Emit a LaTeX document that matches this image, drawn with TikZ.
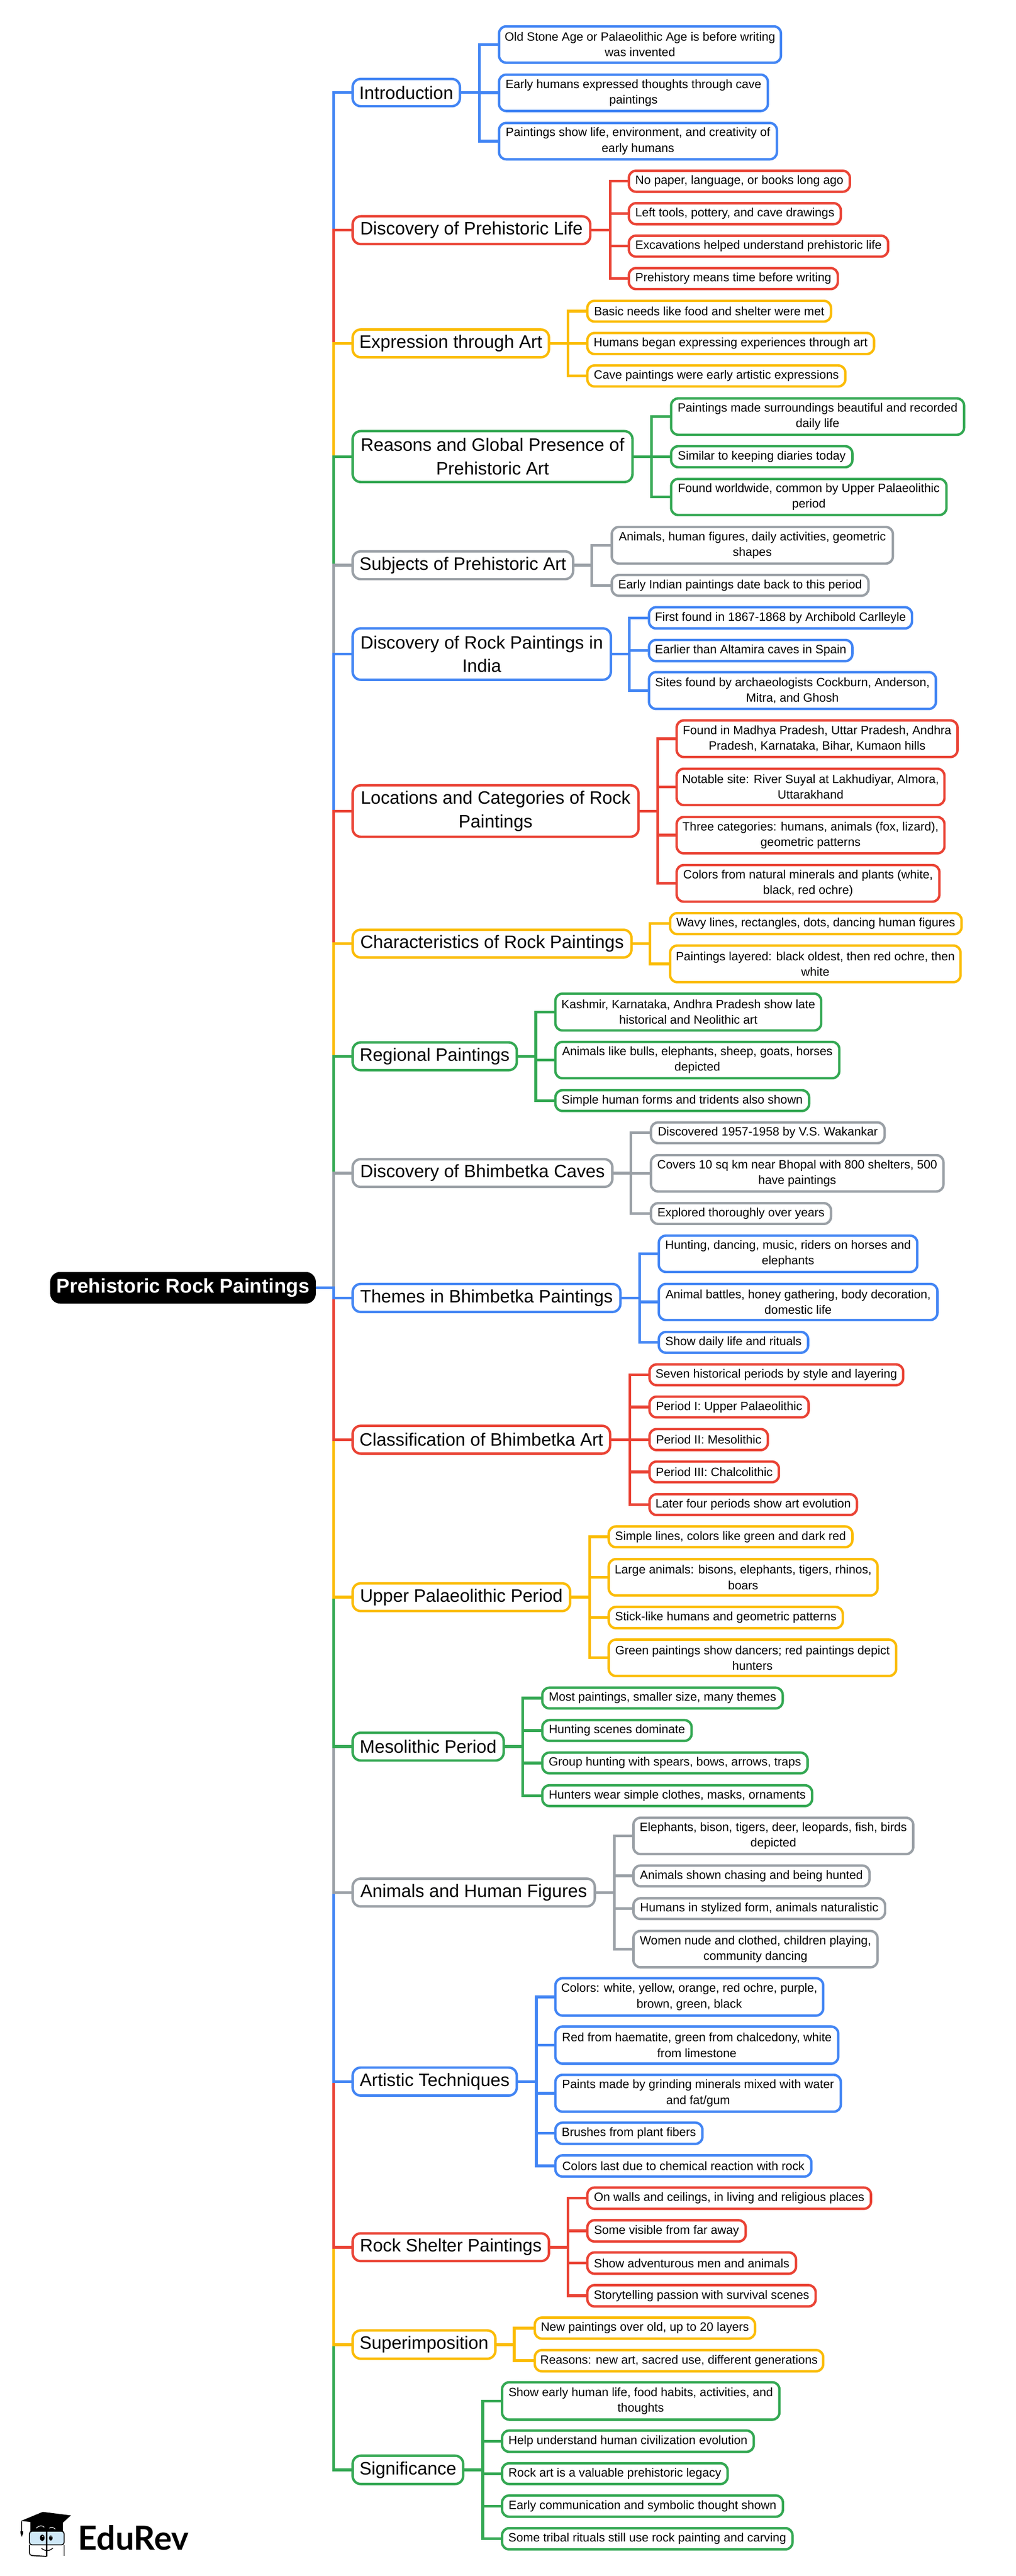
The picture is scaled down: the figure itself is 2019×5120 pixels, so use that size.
\documentclass[tikz,border=0pt]{standalone}
\usepackage{fontspec}
\setmainfont{Liberation Sans}
\newfontfamily\logofont{Lato}
\definecolor{cblue}{HTML}{4285F4}
\definecolor{cred}{HTML}{EA4335}
\definecolor{cyellow}{HTML}{FBBC04}
\definecolor{cgreen}{HTML}{34A853}
\definecolor{cgrey}{HTML}{9AA0A6}
\definecolor{glass}{HTML}{CFE8F7}
\tikzset{
  x=1pt,y=-1pt,
  rootbox/.style={rectangle,rounded corners=20pt,fill=black,text=white,inner sep=0pt,outer sep=0pt,align=center,font=\fontsize{39.5}{47}\selectfont\bfseries},
  branchbox/.style={rectangle,rounded corners=16pt,fill=white,line width=4.8pt,inner sep=0pt,outer sep=0pt,align=center,font=\fontsize{35.7}{47}\selectfont},
  leafbox/.style={rectangle,rounded corners=14pt,fill=white,line width=4.8pt,inner sep=0pt,outer sep=0pt,align=center,font=\fontsize{24}{31}\selectfont},
  conn/.style={line width=5.5pt}
}
\newcounter{leafn}
% name, colour, left, right, top, bottom, junction x, leaf left, text
\newcommand{\br}[9]{%
  \def\curB{#1}\def\curC{#2}\def\curL{#8}\setcounter{leafn}{0}%
  \pgfmathsetmacro{\bcx}{(#3+#4)/2}\pgfmathsetmacro{\bcy}{(#5+#6)/2}%
  \pgfmathsetmacro{\bwd}{#4-#3-4.8+3}\pgfmathsetmacro{\bht}{#6-#5-4.8+1}%
  \node[branchbox,draw=#2,minimum width=\bwd pt,minimum height=\bht pt] (#1) at (\bcx,\bcy) {#9};
  \coordinate (#1-j) at (#7,\bcy);
  \draw[conn,draw=#2] (#1.east) -- (#1-j);
}
% right, top, bottom, text
\newcommand{\lf}[4]{%
  \stepcounter{leafn}%
  \pgfmathsetmacro{\bcx}{(\curL+#1)/2}\pgfmathsetmacro{\bcy}{(#2+#3)/2}%
  \pgfmathsetmacro{\bwd}{#1-\curL-4.8+3}\pgfmathsetmacro{\bht}{#3-#2-4.8+1}%
  \node[leafbox,draw=\curC,minimum width=\bwd pt,minimum height=\bht pt] (\curB-\theleafn) at (\bcx,\bcy) {#4};
  \draw[conn,draw=\curC] (\curB-j) |- (\curB-\theleafn.west);
}
\newcommand{\rootedge}[2]{\draw[conn,draw=#2] (root.east) -- (trunk) |- (#1.west);}
\begin{document}
\begin{tikzpicture}
\useasboundingbox (0,0) rectangle (2019,5120);
\fill[white] (0,0) rectangle (2019,5120);

\node[rootbox,minimum width=528pt,minimum height=63pt] (root) at (363.7,2559.5) {Prehistoric Rock Paintings};
\coordinate (trunk) at (663.3,2559.5);

\br{intro}{cblue}{700}{915}{155}{213}{953}{991}{Introduction}
\lf{1553}{50.5}{126.5}{Old Stone Age or Palaeolithic Age is before writing\\was invented}
\lf{1527}{146.5}{222.5}{Early humans expressed thoughts through cave\\paintings}
\lf{1545}{242.5}{318.5}{Paintings show life, environment, and creativity of\\early humans}

\br{lifed}{cred}{700}{1174}{428}{487}{1213}{1249}{Discovery of Prehistoric Life}
\lf{1690}{337.5}{383}{No paper, language, or books long ago}
\lf{1672}{402}{447.5}{Left tools, pottery, and cave drawings}
\lf{1766}{466.5}{512}{Excavations helped understand prehistoric life}
\lf{1666}{531}{576.5}{Prehistory means time before writing}

\br{expr}{cyellow}{700}{1092}{653}{712}{1129}{1166.5}{Expression through Art}
\lf{1652.5}{596}{641}{Basic needs like food and shelter were met}
\lf{1738}{660}{705.5}{Humans began expressing experiences through art}
\lf{1681}{724.5}{770}{Cave paintings were early artistic expressions}

\br{reas}{cgreen}{700}{1258}{855}{960}{1295}{1333}{Reasons and Global Presence of\\Prehistoric Art}
\lf{1917}{790}{866}{Paintings made surroundings beautiful and recorded\\daily life}
\lf{1695}{885}{930.5}{Similar to keeping diaries today}
\lf{1882}{950}{1025.5}{Found worldwide, common by Upper Palaeolithic\\period}

\br{subj}{cgrey}{700}{1140}{1094}{1153}{1176}{1215}{Subjects of Prehistoric Art}
\lf{1775.5}{1045.5}{1122}{Animals, human figures, daily activities, geometric\\shapes}
\lf{1727}{1141}{1186}{Early Indian paintings date back to this period}

\br{rock}{cblue}{700}{1215}{1247}{1353}{1251}{1289}{Discovery of Rock Paintings in\\India}
\lf{1813.5}{1205}{1251}{First found in 1867-1868 by Archibold Carlleyle}
\lf{1695}{1270}{1316}{Earlier than Altamira caves in Spain}
\lf{1861}{1334}{1411}{Sites found by archaeologists Cockburn, Anderson,\\Mitra, and Ghosh}

\br{loca}{cred}{700}{1270}{1559}{1665}{1307}{1344}{Locations and Categories of Rock\\Paintings}
\lf{1904}{1430}{1506.5}{Found in Madhya Pradesh, Uttar Pradesh, Andhra\\Pradesh, Karnataka, Bihar, Kumaon hills}
\lf{1878}{1526}{1602}{Notable site: River Suyal at Lakhudiyar, Almora,\\Uttarakhand}
\lf{1878}{1622}{1698}{Three categories: humans, animals (fox, lizard),\\geometric patterns}
\lf{1868}{1717.5}{1794}{Colors from natural minerals and plants (white,\\black, red ochre)}

\br{char}{cyellow}{700}{1256}{1846}{1905}{1292}{1331}{Characteristics of Rock Paintings}
\lf{1912}{1813}{1858.5}{Wavy lines, rectangles, dots, dancing human figures}
\lf{1910}{1877.5}{1954}{Paintings layered: black oldest, then red ochre, then\\white}

\br{regi}{cgreen}{700}{1028}{2070}{2129}{1065}{1103}{Regional Paintings}
\lf{1633}{1973}{2050}{Kashmir, Karnataka, Andhra Pradesh show late\\historical and Neolithic art}
\lf{1669}{2069}{2145}{Animals like bulls, elephants, sheep, goats, horses\\depicted}
\lf{1609}{2165}{2210}{Simple human forms and tridents also shown}

\br{bhim}{cgrey}{700}{1218}{2302}{2361}{1254}{1293}{Discovery of Bhimbetka Caves}
\lf{1759}{2229}{2274}{Discovered 1957-1958 by V.S. Wakankar}
\lf{1876}{2294}{2370}{Covers 10 sq km near Bhopal with 800 shelters, 500\\have paintings}
\lf{1652.5}{2389.5}{2434.5}{Explored thoroughly over years}

\br{them}{cblue}{700}{1234}{2550}{2609.5}{1271.5}{1308.5}{Themes in Bhimbetka Paintings}
\lf{1824}{2454}{2530}{Hunting, dancing, music, riders on horses and\\elephants}
\lf{1864}{2550}{2625.5}{Animal battles, honey gathering, body decoration,\\domestic life}
\lf{1607}{2645.5}{2690.5}{Show daily life and rituals}

\br{clas}{cred}{700}{1213.5}{2832}{2891}{1252}{1290}{Classification of Bhimbetka Art}
\lf{1796}{2710}{2755}{Seven historical periods by style and layering}
\lf{1608}{2774}{2819}{Period I: Upper Palaeolithic}
\lf{1527}{2838.5}{2884}{Period II: Mesolithic}
\lf{1549}{2903}{2948}{Period III: Chalcolithic}
\lf{1704}{2968}{3013}{Later four periods show art evolution}

\br{uppe}{cyellow}{700}{1134}{3145}{3204}{1172}{1209}{Upper Palaeolithic Period}
\lf{1695}{3032}{3077}{Simple lines, colors like green and dark red}
\lf{1745}{3097}{3173}{Large animals: bisons, elephants, tigers, rhinos,\\boars}
\lf{1676}{3192}{3238}{Stick-like humans and geometric patterns}
\lf{1782}{3257}{3333}{Green paintings show dancers; red paintings depict\\hunters}

\br{meso}{cgreen}{700}{1002}{3442}{3501}{1039}{1077}{Mesolithic Period}
\lf{1556.5}{3352.5}{3397.5}{Most paintings, smaller size, many themes}
\lf{1375.5}{3417}{3462}{Hunting scenes dominate}
\lf{1606}{3481.5}{3526.5}{Group hunting with spears, bows, arrows, traps}
\lf{1615}{3546.5}{3591.5}{Hunters wear simple clothes, masks, ornaments}

\br{anim}{cgrey}{700}{1183}{3732}{3791}{1221}{1258}{Animals and Human Figures}
\lf{1816}{3611}{3687}{Elephants, bison, tigers, deer, leopards, fish, birds\\depicted}
\lf{1729}{3706}{3751}{Animals shown chasing and being hunted}
\lf{1760}{3771}{3816}{Humans in stylized form, animals naturalistic}
\lf{1745}{3836}{3912}{Women nude and clothed, children playing,\\community dancing}

\br{tech}{cblue}{700}{1028}{4107.5}{4167}{1066}{1103}{Artistic Techniques}
\lf{1637}{3930}{4008}{Colors: white, yellow, orange, red ochre, purple,\\brown, green, black}
\lf{1667}{4026}{4103.5}{Red from haematite, green from chalcedony, white\\from limestone}
\lf{1672}{4122}{4199}{Paints made by grinding minerals mixed with water\\and fat/gum}
\lf{1397}{4217}{4263}{Brushes from plant fibers}
\lf{1613.5}{4282}{4328}{Colors last due to chemical reaction with rock}

\br{shel}{cred}{700}{1092}{4437}{4496}{1129}{1166.5}{Rock Shelter Paintings}
\lf{1732}{4346}{4392}{On walls and ceilings, in living and religious places}
\lf{1483}{4411}{4457}{Some visible from far away}
\lf{1583}{4475}{4521}{Show adventurous men and animals}
\lf{1622}{4540}{4586}{Storytelling passion with survival scenes}

\br{supe}{cyellow}{700}{985.5}{4630}{4690}{1022}{1062}{Superimposition}
\lf{1501.5}{4604.5}{4650}{New paintings over old, up to 20 layers}
\lf{1637}{4669}{4715}{Reasons: new art, sacred use, different generations}

\br{sign}{cgreen}{700}{921.5}{4879}{4939}{959.5}{997}{Significance}
\lf{1550}{4733}{4811}{Show early human life, food habits, activities, and\\thoughts}
\lf{1499}{4829}{4875}{Help understand human civilization evolution}
\lf{1447}{4894}{4939}{Rock art is a valuable prehistoric legacy}
\lf{1557}{4958}{5004}{Early communication and symbolic thought shown}
\lf{1576}{5023}{5069}{Some tribal rituals still use rock painting and carving}

% root connectors: upper branches first-to-last, lower branches last-to-first
\rootedge{intro}{cblue}
\rootedge{lifed}{cred}
\rootedge{expr}{cyellow}
\rootedge{reas}{cgreen}
\rootedge{subj}{cgrey}
\rootedge{rock}{cblue}
\rootedge{loca}{cred}
\rootedge{char}{cyellow}
\rootedge{regi}{cgreen}
\rootedge{bhim}{cgrey}
\rootedge{sign}{cgreen}
\rootedge{supe}{cyellow}
\rootedge{shel}{cred}
\rootedge{tech}{cblue}
\rootedge{anim}{cgrey}
\rootedge{meso}{cgreen}
\rootedge{uppe}{cyellow}
\rootedge{clas}{cred}
\rootedge{them}{cblue}

% logo
\node[inner sep=0pt,anchor=base west,font=\fontsize{66}{70}\selectfont\logofont\bfseries] (logotext) at (155,5068) {EduRev};
\fill[black] (60,5012) rectangle (125,5031);
\draw[line width=2pt] (42.7,5011) -- (42.7,5031);
\fill[black] (40.5,5031) -- (46,5031) -- (46,5035) -- (43.3,5042) -- (40.7,5035) -- cycle;
\fill[black] (41.5,5010.5) -- (85,4992.5) -- (141,4999.5) -- (115,5023) -- (87,5015) -- (60,5012.5) -- cycle;
\draw[white,line width=1.2pt] (72,5025) .. controls (78,5019) and (84,5019) .. (88,5023);
\draw[white,line width=1.2pt] (98,5025) .. controls (102,5022) and (106,5023) .. (110,5027);
\draw[black,line width=2pt,fill=glass,rounded corners=5pt] (58.5,5031) rectangle (127.5,5058);
\draw[black,line width=2pt,rounded corners=5pt] (58.5,5058) -- (58.5,5079) -- (92.5,5081);
\draw[black,line width=2pt,rounded corners=5pt] (127.5,5058) -- (127.5,5080);
\draw[black,line width=2.5pt] (92.7,5031) -- (92.7,5081);
\fill[black] (84,5044) ellipse [x radius=4.6,y radius=6.5];
\fill[black] (101,5044.5) ellipse [x radius=3.6,y radius=5.2];
\fill[white] (85,5041.5) circle (1.2);
\fill[white] (101.5,5042) circle (1);
\draw[black,line width=1.6pt] (82.5,5065) .. controls (90,5071) and (98,5071) .. (105,5064.5);
\end{tikzpicture}
\end{document}
